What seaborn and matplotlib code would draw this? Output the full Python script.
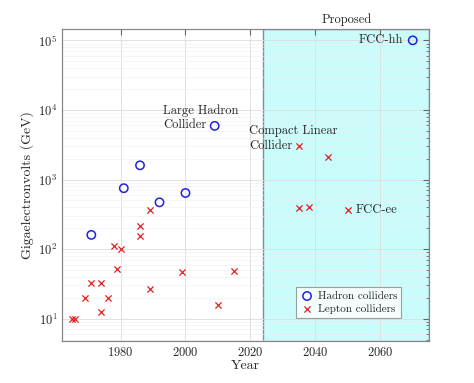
import numpy as np
import pandas as pd
import matplotlib
matplotlib.use("Agg")
import matplotlib.pyplot as plt
import seaborn as sns

# Hadron colliders (year, GeV)
hadron_year = [1971, 1981, 1986, 1992, 2000, 2009, 2070]
hadron_gev = [160, 750, 1600, 470, 640, 5900, 100000]

# Lepton colliders (year, GeV)
lepton_year = [1965, 1966, 1969, 1971, 1974, 1974, 1976, 1978, 1979, 1980,
               1986, 1986, 1989, 1989, 1999, 2010, 2015,
               2035, 2044, 2035, 2038, 2050]
lepton_gev = [10, 10, 20, 33, 33, 12.4, 20, 112, 51, 99,
              215, 153, 365, 27, 47, 15.5, 49,
              3000, 2080, 390, 405, 370]

proposed_start = 2024
x_limits = (1962, 2075)
y_limits = (4.8, 1.45e5)

sns.set_style("white")
plt.rcParams['font.family'] = ['cmr10', 'DejaVu Serif']
plt.rcParams['mathtext.fontset'] = 'cm'
plt.rcParams['axes.formatter.use_mathtext'] = True

df_h = pd.DataFrame({'Year': hadron_year, 'GeV': hadron_gev})
df_l = pd.DataFrame({'Year': lepton_year, 'GeV': lepton_gev})

fig = plt.figure(figsize=(4.74, 3.83), dpi=100)
ax = fig.add_axes([0.131, 0.11, 0.774, 0.814])

ax.axvspan(proposed_start, x_limits[1], facecolor='#cafcfc', edgecolor='#6f9595',
           linewidth=1.0, zorder=0)

sns.scatterplot(data=df_h, x='Year', y='GeV', ax=ax, marker='o', s=36,
                facecolors='none', edgecolor='#2222dd', linewidth=1.1,
                label='Hadron colliders', zorder=3)
sns.scatterplot(data=df_l, x='Year', y='GeV', ax=ax, marker='x', s=20,
                color='#dd2222', linewidth=0.9,
                label='Lepton colliders', zorder=3)

ax.set_yscale('log')
ax.set_xlim(*x_limits)
ax.set_ylim(*y_limits)
ax.set_xticks([1980, 2000, 2020, 2040, 2060])
ax.set_yticks([10, 100, 1000, 10000, 100000])

ax.grid(True, which='major', color='#dcdcdc', linewidth=0.6)
ax.grid(True, which='minor', color='#eeeeee', linewidth=0.4)
ax.set_axisbelow(True)
ax.tick_params(which='both', direction='in', top=True, right=True,
               labelsize=9, colors='#666666', labelcolor='#262626')
ax.tick_params(which='major', length=4)
ax.tick_params(which='minor', length=2)
for sp in ax.spines.values():
    sp.set_color('#888888')
    sp.set_linewidth(0.9)

ax.set_xlabel('Year', fontsize=10, labelpad=1)
ax.set_ylabel('Gigaelectronvolts (GeV)', fontsize=10, labelpad=3)

ax.text(1993.2, 7700, 'Large Hadron\nCollider', ha='left', va='center',
        fontsize=9, linespacing=1.25, multialignment='left')
ax.text(2019.7, 3900, 'Compact Linear\nCollider', ha='left', va='center',
        fontsize=9, linespacing=1.25, multialignment='left')
ax.text(2067, 100000, 'FCC-hh', ha='right', va='center', fontsize=9)
ax.text(2052.5, 360, 'FCC-ee', ha='left', va='center', fontsize=9)
ax.text((proposed_start + x_limits[1]) / 2, 1.6e5, 'Proposed', ha='center',
        va='bottom', fontsize=9)

leg = ax.legend(loc='lower right', bbox_to_anchor=(0.94, 0.055), fontsize=8,
                frameon=True, fancybox=False, borderpad=0.35, handletextpad=0.4,
                labelspacing=0.3, handlelength=1.2)
leg.get_frame().set_edgecolor('#888888')
leg.get_frame().set_linewidth(0.8)

fig.savefig('out.png', dpi=100)
